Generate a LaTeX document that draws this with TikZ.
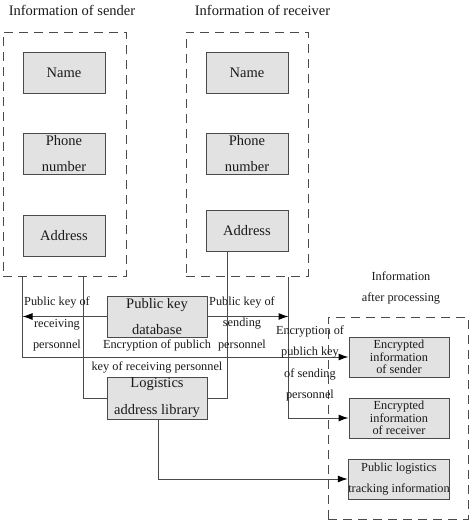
\documentclass[tikz,border=0pt]{standalone}
\usepackage{fontspec}
\setmainfont{Liberation Serif}
\usetikzlibrary{arrows.meta}
\definecolor{linegray}{HTML}{4A4A4A}
\definecolor{boxgray}{HTML}{E2E2E2}
\definecolor{txt}{HTML}{1A1A1A}
\newcommand{\bigf}{\fontsize{14.5}{26.5}\selectfont}
\newcommand{\smallf}{\fontsize{12.3}{21.5}\selectfont}
\newcommand{\tightf}{\fontsize{12.3}{12.5}\selectfont}
\tikzset{
  bigbox/.style={draw=linegray, fill=boxgray, line width=1pt, minimum width=82pt, minimum height=41pt, inner sep=0pt, align=center, font=\bigf, text=txt},
  midbox/.style={bigbox, minimum width=100pt},
  outbox/.style={bigbox, minimum width=100pt, minimum height=40pt, font=\tightf},
  groupbox/.style={draw=linegray, line width=1pt, dash pattern=on 9pt off 6pt, inner sep=0pt},
  lbl/.style={align=center, font=\smallf, text=txt, inner sep=0pt},
  ttl/.style={font=\bigf, text=txt, inner sep=0pt},
  conn/.style={draw=linegray, line width=1pt},
  arr/.style={conn, -{Latex[length=10pt,width=7pt,color=black]}}
}
\begin{document}
\begin{tikzpicture}[x=1pt,y=-1pt]
\useasboundingbox (0,0) rectangle (474,523);
% group boxes
\node[groupbox, minimum width=123pt, minimum height=244pt] (sbox) at (64.5,154) {};
\node[groupbox, minimum width=122pt, minimum height=244pt] (rbox) at (247,154) {};
\node[groupbox, minimum width=140pt, minimum height=202pt] (obox) at (398,418) {};
% titles
\node[ttl] (tsend) at (72,10) {Information of sender};
\node[ttl] (trecv) at (262.5,10) {Information of receiver};
\node[lbl] (tout) at (401,288) {Information\\after processing};
% sender boxes
\node[bigbox] (sname) at (64,72.5) {Name};
\node[bigbox] (sphone) at (64,153.5) {Phone\\number};
\node[bigbox] (saddr) at (64,235.5) {Address};
% receiver boxes
\node[bigbox] (rname) at (247,72.5) {Name};
\node[bigbox] (rphone) at (247,153.5) {Phone\\number};
\node[bigbox] (raddr) at (247,231) {Address};
% middle
\node[midbox] (pkdb) at (157,316.5) {Public key\\database};
\node[midbox, minimum height=42pt] (logi) at (157,398) {Logistics\\address library};
% outputs
\node[outbox] (esend) at (399,357) {Encrypted\\information\\of sender};
\node[outbox] (erecv) at (399,418) {Encrypted\\information\\of receiver};
\node[outbox, font=\smallf] (track) at (399,479) {Public logistics\\tracking information};
% connectors
\draw[arr] (sbox.south -| sname.west) |- (esend.west);
\draw[arr] (pkdb.west) -- (pkdb.west -| sname.west);
\draw[conn] ([xshift=19pt]sbox.south -| sname.south) |- (logi.west);
\draw[conn] ([xshift=-20pt]raddr.south) |- (logi.east);
\draw[arr] (rbox.south -| raddr.east) |- (erecv.west);
\draw[arr] (pkdb.east) -- (pkdb.east -| raddr.east);
\draw[arr] ([xshift=1pt]logi.south) |- (track.west);
% labels
\node[lbl] (l1) at (57,324) {Public key of\\receiving\\personnel};
\node[lbl] (l2) at (157,356.5) {Encryption of publich\\key of receiving personnel};
\node[lbl] (l3) at (242,323.5) {Public key of\\sending\\personnel};
\node[lbl] (l4) at (310,363.5) {Encryption of\\publich key\\of sending\\personnel};
\end{tikzpicture}
\end{document}
